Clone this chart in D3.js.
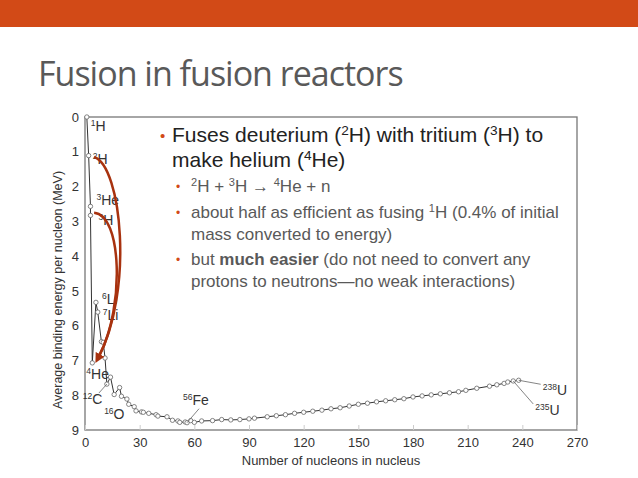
<!DOCTYPE html><html><head><meta charset="utf-8">
<script src="https://cdn.jsdelivr.net/npm/d3@7"></script>
<style>body{margin:0;background:#fff}svg{display:block}</style></head><body>
<script>
const xTicks=[0,30,60,90,120,150,180,210,240,270];
const yTicks=[0,1,2,3,4,5,6,7,8,9];
const massNumbers=[1,2,3,3,4,6,7,9,10,11,12,14,16,19,20,23,24,27,28,31,32,35,39,40,45,48,51,52,55,56,58,60,64,70,75,80,85,90,93,100,105,110,115,120,125,130,135,140,145,150,155,160,165,170,175,180,185,190,195,200,205,209,215,222,226,230,232,235,238];
const bindingEnergy=[0,1.11,2.57,2.83,7.07,5.33,5.61,6.46,6.48,6.93,7.68,7.48,7.98,7.78,8.03,8.11,8.26,8.33,8.45,8.48,8.49,8.52,8.56,8.6,8.62,8.72,8.74,8.78,8.77,8.79,8.73,8.78,8.74,8.73,8.7,8.71,8.7,8.68,8.66,8.62,8.59,8.56,8.52,8.49,8.46,8.43,8.39,8.36,8.31,8.26,8.23,8.19,8.16,8.13,8.1,8.05,8.02,7.99,7.96,7.93,7.9,7.86,7.8,7.74,7.7,7.66,7.62,7.59,7.57];
const labels=[
 {sup:"1",t:"H",x:1,y:0,dx:4,dy:14},
 {sup:"2",t:"H",x:2,y:1.11,dx:4,dy:8},
 {sup:"3",t:"He",x:3,y:2.57,dx:6,dy:-1},
 {sup:"3",t:"H",x:3,y:2.83,dx:8,dy:10},
 {sup:"6",t:"Li",x:6,y:5.33,dx:6,dy:2},
 {sup:"7",t:"Li",x:7,y:5.61,dx:5,dy:8},
 {sup:"4",t:"He",x:4,y:7.07,dx:-6,dy:16},
 {sup:"12",t:"C",x:12,y:7.68,dx:-24,dy:20,lead:true},
 {sup:"16",t:"O",x:16,y:7.98,dx:-10,dy:24},
 {sup:"56",t:"Fe",x:56,y:8.79,dx:-4,dy:-18,lead:true},
 {sup:"238",t:"U",x:238,y:7.57,dx:24,dy:15,lead:true},
 {sup:"235",t:"U",x:235,y:7.59,dx:22,dy:34,lead:true}];
const W=638,H=478;
const svg=d3.select("body").append("svg").attr("width",W).attr("height",H).style("font-family","Liberation Sans, Arial, sans-serif");
svg.append("rect").attr("width",W).attr("height",27).attr("fill","#d24a17");
svg.append("text").attr("x",38).attr("y",86).attr("font-size",34).attr("fill","#595959").attr("font-family","Open Sans, sans-serif").attr("letter-spacing",-1).text("Fusion in fusion reactors");
const x=d3.scaleLinear().domain([0,270]).range([85,577]);
const y=d3.scaleLinear().domain([0,9]).range([117,430]);
const g=svg.append("g");
g.append("rect").attr("x",85).attr("y",117).attr("width",492).attr("height",313).attr("fill","none").attr("stroke","#777").attr("stroke-width",1.3);
g.append("g").attr("transform","translate(0,430)").call(d3.axisBottom(x).tickValues(xTicks).tickSize(-5).tickPadding(8)).call(a=>{a.select(".domain").remove();a.selectAll("line").attr("stroke","#ccc");a.selectAll("text").attr("font-size",13).attr("fill","#333");});
g.append("g").attr("transform","translate(85,0)").call(d3.axisLeft(y).tickValues(yTicks).tickSize(0).tickPadding(6)).call(a=>{a.select(".domain").remove();a.selectAll("text").attr("font-size",13).attr("fill","#333");});
svg.append("text").attr("transform","translate(62,290) rotate(-90)").attr("text-anchor","middle").attr("font-size",12.5).attr("fill","#333").text("Average binding energy per nucleon (MeV)");
svg.append("text").attr("x",331).attr("y",465).attr("text-anchor","middle").attr("font-size",13).attr("fill","#333").text("Number of nucleons in nucleus");
const pts=massNumbers.map((m,i)=>[m,bindingEnergy[i]]);
g.append("path").attr("d",d3.line().x(d=>x(d[0])).y(d=>y(d[1]))(pts)).attr("fill","none").attr("stroke","#333").attr("stroke-width",1);
g.selectAll("circle").data(pts).join("circle").attr("cx",d=>x(d[0])).attr("cy",d=>y(d[1])).attr("r",2.2).attr("fill","#fff").attr("stroke","#666").attr("stroke-width",0.8);
labels.forEach(l=>{
 const px=x(l.x),py=y(l.y);
 if(l.lead) g.append("line").attr("x1",px).attr("y1",py).attr("x2",px+l.dx-(l.dx>0?2:-16)).attr("y2",py+l.dy+(l.dy>0?-11:4)).attr("stroke","#666").attr("stroke-width",0.8);
 const t=g.append("text").attr("x",px+l.dx).attr("y",py+l.dy).attr("fill","#333").attr("font-size",14);
 t.append("tspan").attr("font-size",8.5).attr("dy",-5).text(l.sup);
 t.append("tspan").attr("dy",5).text(l.t);
});
const red="#a8320f";
const defs=svg.append("defs");
defs.append("marker").attr("id","ah").attr("viewBox","0 0 10 10").attr("refX",5).attr("refY",5).attr("markerWidth",4).attr("markerHeight",4).attr("orient","auto").append("path").attr("d","M0,0L10,5L0,10z").attr("fill",red);
svg.append("path").attr("d",`M${x(5)},${y(1.15)} C ${x(20)},${y(1.4)} ${x(27)},${y(5)} ${x(7)},${y(6.95)}`).attr("fill","none").attr("stroke",red).attr("stroke-width",2.5).attr("marker-end","url(#ah)");
svg.append("path").attr("d",`M${x(5)},${y(2.75)} C ${x(20)},${y(2.8)} ${x(22)},${y(5.4)} ${x(8)},${y(6.85)}`).attr("fill","none").attr("stroke",red).attr("stroke-width",2.5);
const tb=svg.append("g").attr("fill","#333");
function line(xp,yp,size,col,parts){const t=tb.append("text").attr("x",xp).attr("y",yp).attr("font-size",size).attr("fill",col);parts.forEach(p=>{const s=t.append("tspan").text(p.t);if(p.sup){s.attr("font-size",size*0.65).attr("dy",-size*0.35);}if(p.down)s.attr("dy",size*0.35);if(p.b)s.attr("font-weight","bold");});}
tb.append("text").attr("x",160).attr("y",141).attr("font-size",15).attr("fill","#d24a17").text("•");
line(172,142,21,"#222",[{t:"Fuses deuterium ("},{t:"2",sup:1},{t:"H) with tritium (",down:1},{t:"3",sup:1},{t:"H) to",down:1}]);
line(172,167,21,"#222",[{t:"make helium ("},{t:"4",sup:1},{t:"He)",down:1}]);
[191,217,264].forEach(v=>tb.append("text").attr("x",176).attr("y",v).attr("font-size",12).attr("fill","#d24a17").text("•"));
const gr="#595959";
line(191,192,17,gr,[{t:"2",sup:1},{t:"H + ",down:1},{t:"3",sup:1},{t:"H → ",down:1},{t:"4",sup:1},{t:"He + n",down:1}]);
line(191,218,17,gr,[{t:"about half as efficient as fusing "},{t:"1",sup:1},{t:"H (0.4% of initial",down:1}]);
line(191,240,17,gr,[{t:"mass converted to energy)"}]);
line(191,265,17,gr,[{t:"but "},{t:"much easier",b:1},{t:" (do not need to convert any"}]);
line(191,287,17,gr,[{t:"protons to neutrons—no weak interactions)"}]);
</script></body></html>
